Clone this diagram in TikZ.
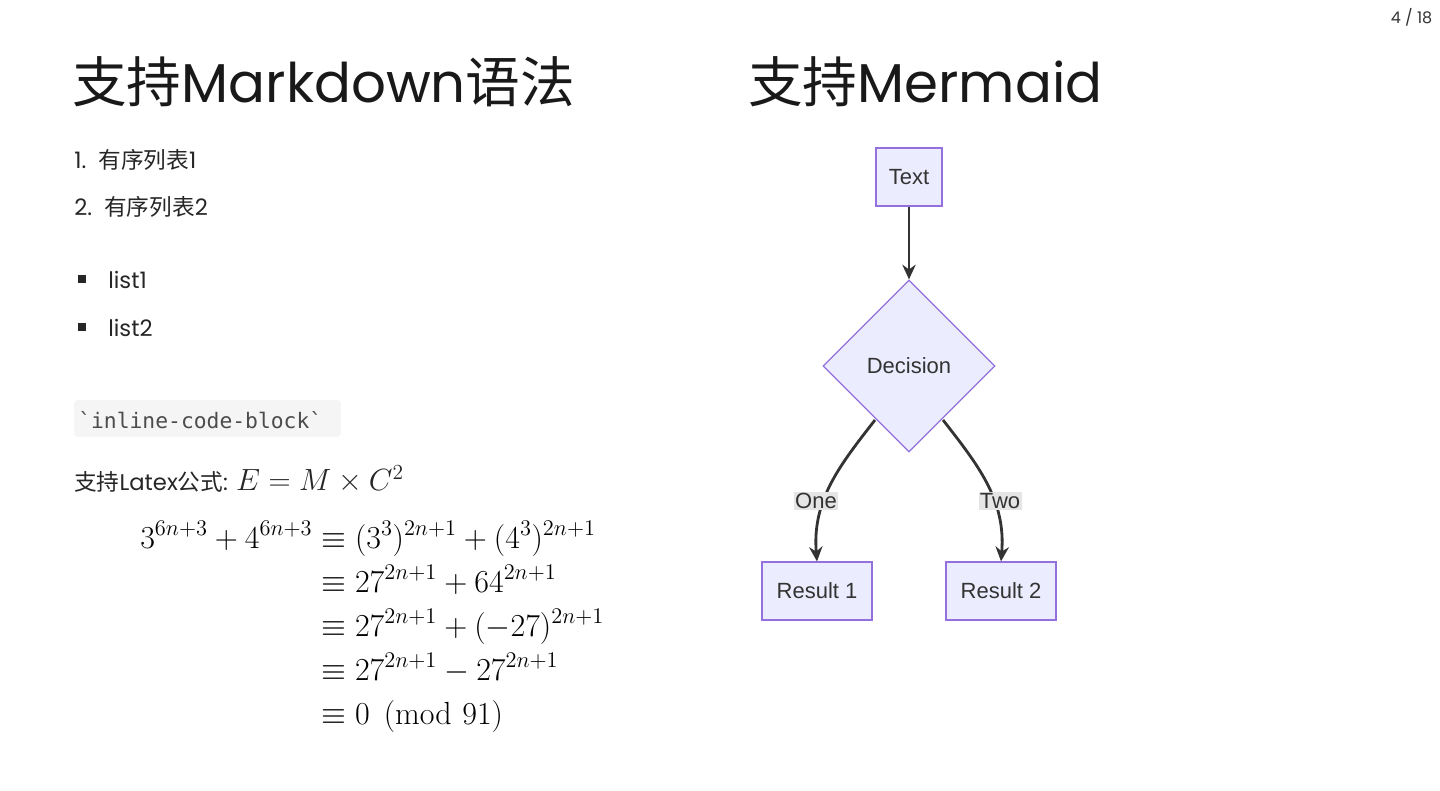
\RequirePackage{fix-cm}
\documentclass[tikz,border=0pt]{standalone}
\usepackage{amsmath}
\usepackage[no-math]{fontspec}
\setmainfont{Poppins}
\newfontfamily\cjk{Noto Sans CJK SC}
\newfontfamily\arialf{Liberation Sans}
\newfontfamily\monof{DejaVu Sans Mono}
\usetikzlibrary{shapes.geometric,arrows.meta}
\definecolor{mfill}{HTML}{ECECFF}
\definecolor{mline}{HTML}{9370DB}
\definecolor{edge}{HTML}{333333}
\tikzset{
 mbox/.style={draw=mline,fill=mfill,line width=0.9pt,minimum height=43.5pt,font=\arialf\fontsize{16.5}{19}\selectfont,text=edge,inner sep=0pt},
 conn/.style={draw=edge,line width=2.1pt,-{Stealth[length=11pt,width=10pt]}},
 elab/.style={fill=black!10,font=\arialf\fontsize{16.5}{19}\selectfont,text=edge,inner sep=1pt},
 body/.style={anchor=west,font=\fontsize{17}{20}\selectfont,text=black!85,inner sep=0pt},
}
\begin{document}
\begin{tikzpicture}[x=0.75pt,y=-0.75pt]
\useasboundingbox (0,0) rectangle (1440,791);
\node[anchor=east,font=\fontsize{12}{14}\selectfont,text=black!80] (pg) at (1437,17) {4 / 18};
\node[anchor=west,inner sep=0pt,font=\fontsize{41}{46}\selectfont,text=black!90] (t1) at (72,82) {{\cjk 支持}Markdown{\cjk 语法}};
\node[anchor=west,inner sep=0pt,font=\fontsize{41}{46}\selectfont,text=black!90] (t2) at (748,82) {{\cjk 支持}Mermaid};
\node[body] (o1) at (74,160) {1.\ \ {\cjk 有序列表}1};
\node[body] (o2) at (74,207) {2.\ \ {\cjk 有序列表}2};
\fill[black!85] (78,275) rectangle (86,283);
\fill[black!85] (78,323) rectangle (86,331);
\node[body] (l1) at (108,280) {list1};
\node[body] (l2) at (108,328) {list2};
\fill[black!4,rounded corners=3pt] (74,400) rectangle (341,437);
\node[anchor=west,inner sep=0pt,font=\monof\fontsize{16}{18}\selectfont,text=black!70] (code) at (78,420) {`inline-code-block`};
\node[body] (lx) at (74,479) {{\cjk 支持}Latex{\cjk 公式}: {\fontsize{23}{27}\selectfont$E=M\times C^2$}};
\node[anchor=north west,inner sep=0pt,font=\fontsize{24}{30}\selectfont] (eq) at (140,520) {$\begin{aligned}
3^{6n+3}+4^{6n+3}&\equiv(3^3)^{2n+1}+(4^3)^{2n+1}\\
&\equiv 27^{2n+1}+64^{2n+1}\\
&\equiv 27^{2n+1}+(-27)^{2n+1}\\
&\equiv 27^{2n+1}-27^{2n+1}\\
&\equiv 0\pmod{91}
\end{aligned}$};
\node[mbox,minimum width=49.5pt] (tx) at (909,177) {Text};
\node[diamond,draw=mline,fill=mfill,line width=0.9pt,minimum width=129pt,minimum height=129pt,inner sep=0pt,font=\arialf\fontsize{16.5}{19}\selectfont,text=edge] (dc) at (909,366) {Decision};
\node[mbox,minimum width=82.5pt] (r1) at (817,591) {Result 1};
\node[mbox,minimum width=82.5pt] (r2) at (1001,591) {Result 2};
\draw[conn] (tx) -- (dc.north);
\coordinate (dl) at (875,420);
\coordinate (dr) at (943,420);
\draw[conn] (dl) .. controls (840,465) and (812,500) .. (r1.north);
\draw[conn] (dr) .. controls (978,465) and (1006,500) .. (r2.north);
\node[elab] (one) at (816,501) {One};
\node[elab] (two) at (1000,501) {Two};
\end{tikzpicture}
\end{document}
